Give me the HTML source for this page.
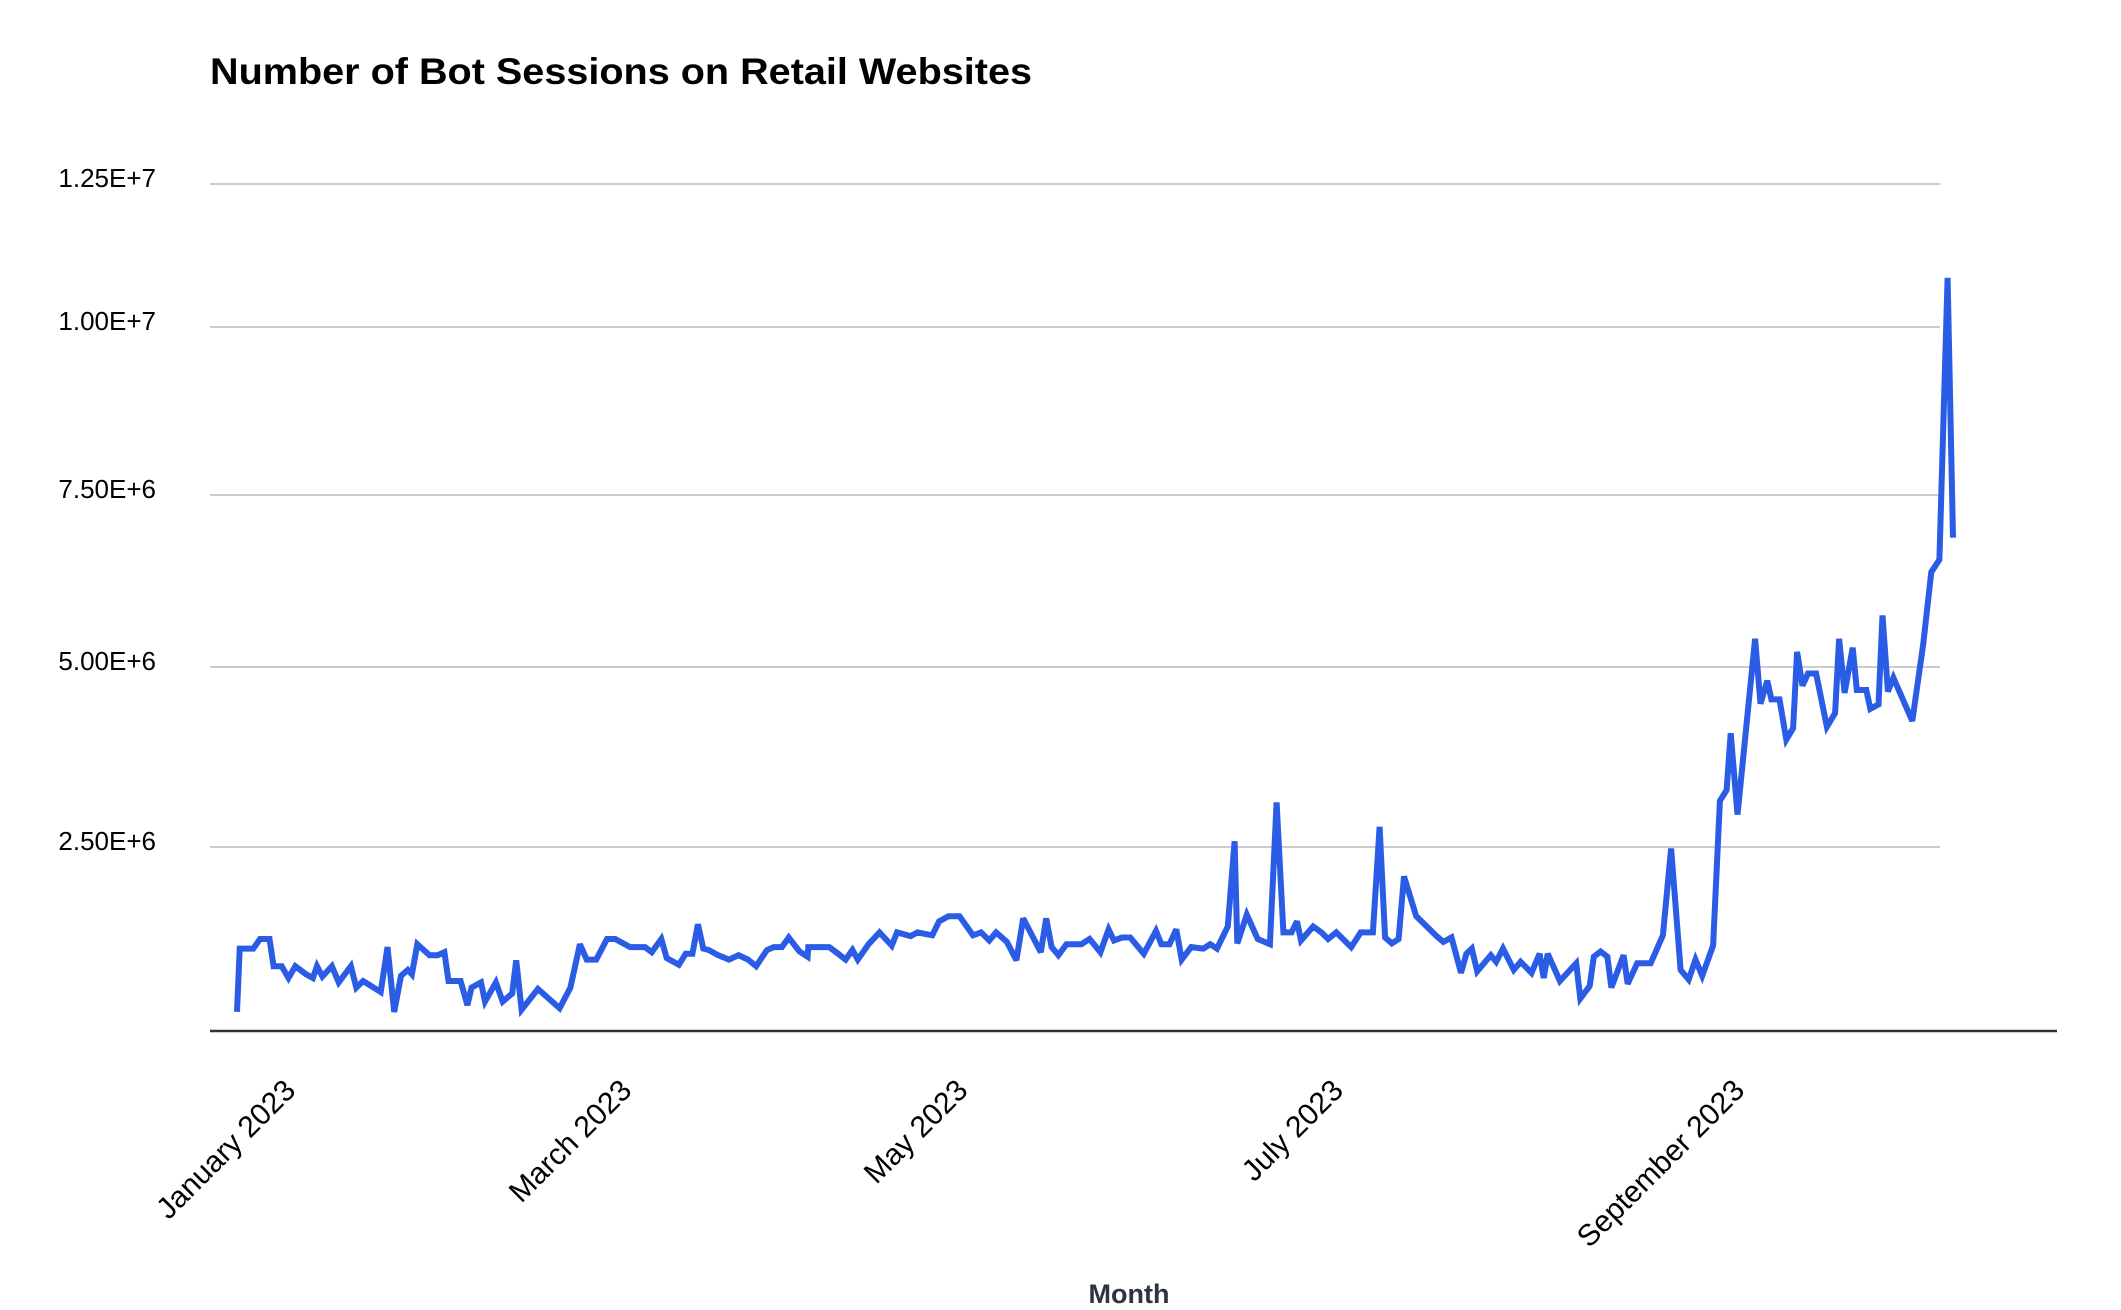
<!DOCTYPE html>
<html><head><meta charset="utf-8"><style>
html,body{margin:0;padding:0;background:#fff;}
svg{display:block;font-family:"Liberation Sans",sans-serif;}
</style></head><body>
<svg id="chart" width="2121" height="1310" viewBox="0 0 2121 1310">
<text x="210" y="84" font-size="37" font-weight="bold" fill="#000" textLength="822" lengthAdjust="spacingAndGlyphs">Number of Bot Sessions on Retail Websites</text>
<g id="grid"></g><g id="ylabels"></g><g id="xlabels"></g><g id="series"></g>
<text x="1129" y="1303" font-size="27" font-weight="bold" fill="#2d3440" text-anchor="middle">Month</text>
</svg>
<script>
const yTickValues = [0, 2.5, 5, 7.5, 10, 12.5];
const yTickLabels = ["", "2.50E+6", "5.00E+6", "7.50E+6", "1.00E+7", "1.25E+7"];
const xTickLabels = ["January 2023", "March 2023", "May 2023", "July 2023", "September 2023"];
const xTickDays = [37, 285, 533, 810, 1106];
const dayIndex = [0,2,12,17,24,27,33,38,43,51,56,59,63,70,75,84,88,93,106,111,116,121,126,129,133,142,148,153,156,165,170,173,180,183,191,196,203,206,210,222,238,246,253,258,265,273,279,290,301,306,313,317,326,331,336,340,344,348,355,363,370,377,383,391,396,402,407,415,421,421.5,437,442,449,454,458,466,474,483,487,497,502,513,518,525,533,543,549,555,560,568,575,580,593,597,601,606,612,623,629,637,643,647,653,659,669,678,682,688,693,697,704,713,718,723,731,736,738,745,753,762,767,772,778,782,785,794,800,805,811,822,829,838,843,847,852,857,861,870,885,890,896,903,907,911,915,925,929,934,942,947,955,961,964,967,976,988,991,998,1001,1006,1011,1014,1023,1026,1033,1043,1052,1058,1065,1071,1076,1081,1089,1094,1099,1102,1107,1120,1124,1129,1132,1138,1143,1148,1151,1155,1159,1165,1173,1179,1182,1186,1192,1195,1202,1205,1211,1214,1218,1222,1236,1244,1250,1256,1262,1266];
const sessionsMillions = [0.26,1.12,1.12,1.25,1.25,0.88,0.88,0.72,0.88,0.77,0.72,0.88,0.74,0.88,0.66,0.88,0.59,0.68,0.53,1.14,0.26,0.75,0.83,0.77,1.18,1.03,1.03,1.07,0.68,0.68,0.35,0.59,0.66,0.40,0.66,0.40,0.51,0.96,0.29,0.57,0.31,0.59,1.18,0.97,0.97,1.25,1.25,1.14,1.14,1.07,1.25,0.99,0.90,1.05,1.05,1.45,1.12,1.10,1.03,0.97,1.03,0.97,0.88,1.10,1.14,1.14,1.27,1.08,1.01,1.14,1.14,1.07,0.97,1.10,0.97,1.18,1.34,1.16,1.34,1.29,1.34,1.30,1.49,1.56,1.56,1.30,1.34,1.23,1.34,1.21,0.96,1.53,1.07,1.53,1.14,1.03,1.18,1.18,1.25,1.07,1.38,1.23,1.27,1.27,1.05,1.36,1.18,1.18,1.38,0.97,1.14,1.12,1.18,1.12,1.42,2.58,1.19,1.58,1.25,1.18,3.12,1.34,1.34,1.49,1.23,1.42,1.34,1.25,1.34,1.14,1.34,1.34,2.78,1.27,1.19,1.25,2.10,1.56,1.29,1.21,1.27,0.79,1.05,1.12,0.81,1.03,0.94,1.12,0.83,0.94,0.79,1.05,0.72,1.05,0.68,0.92,0.44,0.61,1.01,1.08,1.01,0.59,1.03,0.64,0.92,0.92,1.30,2.48,0.83,0.70,0.97,0.75,1.16,3.14,3.29,4.08,2.95,5.41,4.49,4.81,4.55,4.55,3.99,4.15,5.22,4.74,4.91,4.91,4.17,4.36,5.41,4.64,5.28,4.68,4.68,4.42,4.48,5.75,4.66,4.85,4.25,5.33,6.38,6.56,10.86,6.88];

const NS = "http://www.w3.org/2000/svg";
const gridY = [1031, 847, 667, 495, 327, 184];
function yScale(v) {
  for (let i = 0; i < yTickValues.length - 1; i++) {
    if (v <= yTickValues[i + 1] || i === yTickValues.length - 2) {
      const t = (v - yTickValues[i]) / (yTickValues[i + 1] - yTickValues[i]);
      return gridY[i] + t * (gridY[i + 1] - gridY[i]);
    }
  }
}
const X0 = 237, X1 = 1953, DMAX = 1266;
function xScale(d) { return X0 + d / DMAX * (X1 - X0); }

const grid = document.getElementById('grid');
const ylab = document.getElementById('ylabels');
yTickValues.forEach((v, i) => {
  const y = yScale(v);
  const ln = document.createElementNS(NS, 'line');
  ln.setAttribute('x1', 210);
  ln.setAttribute('x2', i === 0 ? 2057 : 1940);
  ln.setAttribute('y1', y); ln.setAttribute('y2', y);
  ln.setAttribute('stroke', i === 0 ? '#333' : '#cccccc');
  ln.setAttribute('stroke-width', i === 0 ? 2.5 : 2);
  
  
  grid.appendChild(ln);
  if (yTickLabels[i]) {
    const t = document.createElementNS(NS, 'text');
    t.setAttribute('x', 156); t.setAttribute('y', y + 3);
    t.setAttribute('text-anchor', 'end');
    t.setAttribute('font-size', '26');
    t.setAttribute('fill', '#000');
    t.textContent = yTickLabels[i];
    
    
    ylab.appendChild(t);
  }
});

const xlab = document.getElementById('xlabels');
xTickLabels.forEach((lab, i) => {
  const x = xScale(xTickDays[i]) + 10, y = 1092;
  const t = document.createElementNS(NS, 'text');
  t.setAttribute('x', x); t.setAttribute('y', y);
  t.setAttribute('text-anchor', 'end');
  t.setAttribute('font-size', '30');
  t.setAttribute('fill', '#000');
  t.setAttribute('transform', `rotate(-45 ${x} ${y})`);
  t.textContent = lab;
  
  
  xlab.appendChild(t);
});

const pts = dayIndex.map((d, i) => xScale(d).toFixed(1) + ',' + yScale(sessionsMillions[i]).toFixed(1));
const pl = document.createElementNS(NS, 'polyline');
pl.setAttribute('points', pts.join(' '));
pl.setAttribute('fill', 'none');
pl.setAttribute('stroke', '#2a5ce6');
pl.setAttribute('stroke-width', '6');
pl.setAttribute('stroke-linejoin', 'miter');
pl.setAttribute('stroke-miterlimit', '3');


document.getElementById('series').appendChild(pl);
</script>
</body></html>
